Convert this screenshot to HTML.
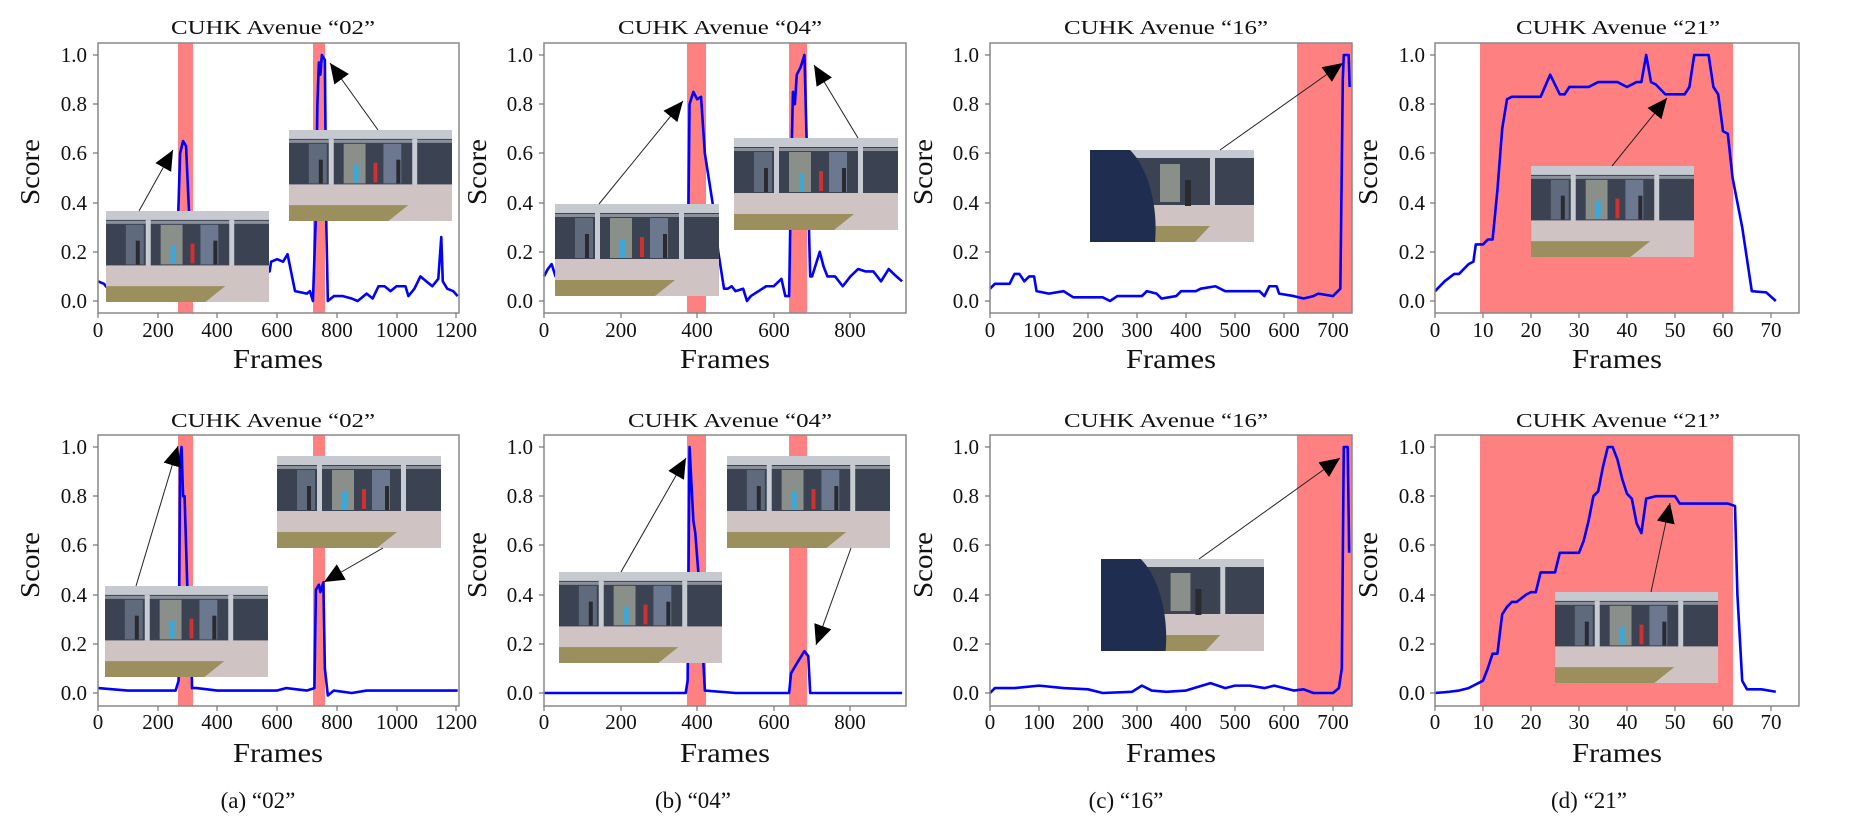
<!DOCTYPE html>
<html><head><meta charset="utf-8"><style>
html,body{margin:0;padding:0;background:#fff;}
svg{display:block;font-family:"Liberation Serif",serif;}
.t{font-size:21px;fill:#111;}
.lbl{font-size:27px;fill:#111;}
.ttl{font-size:20px;fill:#111;}
.fr{fill:none;stroke:#888;stroke-width:1.5;}
.tk{stroke:#777;stroke-width:1.2;}
.ln{fill:none;stroke:#0000ff;stroke-width:2.6;stroke-linejoin:round;}
.ar{stroke:#222;stroke-width:1;fill:none;}
.band{fill:#ff8080;}
</style></head><body>
<svg width="1850" height="817" viewBox="0 0 1850 817" xmlns="http://www.w3.org/2000/svg">
<defs>
<marker id="ah" markerUnits="userSpaceOnUse" markerWidth="24" markerHeight="22" refX="20" refY="9" orient="auto">
<path d="M0,0 L20,9 L0,18 z" fill="#000"/>
</marker>
<symbol id="scene" viewBox="0 0 164 92" preserveAspectRatio="none">
<rect width="164" height="92" fill="#3b4352"/>
<rect x="0" y="0" width="164" height="9" fill="#c6cad0"/>
<rect x="0" y="10" width="164" height="3" fill="#8a909a"/>
<rect x="20" y="14" width="18" height="40" fill="#5f6a7c"/>
<rect x="55" y="14" width="22" height="40" fill="#8b8f8a"/>
<rect x="95" y="14" width="18" height="40" fill="#6c7790"/>
<rect x="40" y="9" width="5" height="52" fill="#c8ccd2"/>
<rect x="124" y="9" width="5" height="52" fill="#c8ccd2"/>
<rect x="0" y="55" width="164" height="37" fill="#cfc3c4"/>
<polygon points="0,76 120,76 100,92 0,92" fill="#9c8f5e"/>
<rect x="65" y="35" width="5" height="18" fill="#3aa8d8"/>
<rect x="85" y="33" width="4" height="20" fill="#d03030"/>
<rect x="30" y="30" width="4" height="24" fill="#2a2a30"/>
<rect x="108" y="30" width="4" height="24" fill="#2a2a30"/>
</symbol>
<symbol id="scene2" viewBox="0 0 164 92" preserveAspectRatio="none">
<rect width="164" height="92" fill="#3b4352"/>
<rect x="0" y="0" width="164" height="8" fill="#c6cad0"/>
<rect x="70" y="14" width="20" height="38" fill="#8b8f8a"/>
<rect x="120" y="8" width="5" height="50" fill="#c8ccd2"/>
<rect x="0" y="55" width="164" height="37" fill="#cfc3c4"/>
<polygon points="40,76 120,76 105,92 40,92" fill="#9c8f5e"/>
<path d="M0,0 L40,0 C60,20 68,60 65,92 L0,92 z" fill="#1f2e50"/>
<rect x="95" y="30" width="6" height="26" fill="#2a2a30"/>
</symbol>
</defs>

<!-- ===== bands ===== -->
<rect class="band" x="178" y="43" width="15" height="270"/>
<rect class="band" x="313" y="43" width="12" height="270"/>
<rect class="band" x="687" y="43" width="19" height="270"/>
<rect class="band" x="789" y="43" width="18" height="270"/>
<rect class="band" x="1297" y="43" width="55" height="270"/>
<rect class="band" x="1480" y="43" width="253" height="270"/>

<rect class="band" x="178" y="435" width="15" height="271"/>
<rect class="band" x="313" y="435" width="12" height="271"/>
<rect class="band" x="687" y="435" width="19" height="271"/>
<rect class="band" x="789" y="435" width="18" height="271"/>
<rect class="band" x="1297" y="435" width="55" height="271"/>
<rect class="band" x="1480" y="435" width="253" height="271"/>

<!-- ===== curves row1 ===== -->
<g transform="translate(98,301) scale(0.2985,-246)">
<polyline class="ln" vector-effect="non-scaling-stroke" points="0,0.08 20,0.07 40,0.04 60,0.05 100,0.03 200,0.03 260,0.05 270,0.4 275,0.6 285,0.65 295,0.63 305,0.36 315,0.36 320,0.2 400,0.1 575,0.12 580,0.16 600,0.17 620,0.16 635,0.19 650,0.1 660,0.04 700,0.03 710,0.04 720,0 730,0.35 735,0.8 740,0.97 745,0.92 750,1.0 760,0.98 765,0.3 770,0 790,0.02 820,0.02 850,0.01 870,0 900,0.03 920,0.01 940,0.06 960,0.06 980,0.04 1000,0.06 1030,0.06 1040,0.02 1060,0.05 1080,0.1 1100,0.08 1120,0.06 1140,0.09 1150,0.26 1155,0.08 1170,0.05 1190,0.04 1205,0.02"/>
</g>
<g transform="translate(544,301) scale(0.383,-246)">
<polyline class="ln" vector-effect="non-scaling-stroke" points="0,0.1 10,0.13 20,0.15 30,0.1 100,0.1 300,0.08 375,0.05 380,0.8 390,0.85 400,0.82 410,0.83 420,0.6 430,0.5 440,0.4 455,0.2 460,0.15 470,0.05 480,0.05 490,0.06 500,0.04 520,0.05 530,0 540,0.02 560,0.04 580,0.06 600,0.06 620,0.09 630,0.02 640,0.02 645,0.5 650,0.85 655,0.8 660,0.92 670,0.95 680,1.0 690,0.4 695,0.1 700,0.1 720,0.2 730,0.14 740,0.1 760,0.1 780,0.06 800,0.1 820,0.13 840,0.12 860,0.12 880,0.08 900,0.13 920,0.1 935,0.08"/>
</g>
<g transform="translate(990,301) scale(0.49,-246)">
<polyline class="ln" vector-effect="non-scaling-stroke" points="0,0.05 10,0.07 40,0.07 50,0.11 60,0.11 70,0.08 80,0.1 90,0.1 95,0.04 120,0.03 150,0.04 170,0.015 230,0.015 245,0 260,0.02 310,0.02 320,0.04 340,0.03 350,0.01 380,0.02 390,0.04 420,0.04 430,0.05 460,0.06 480,0.04 520,0.04 550,0.04 560,0.02 570,0.06 585,0.06 590,0.03 620,0.02 640,0.01 660,0.02 670,0.03 700,0.02 715,0.05 720,0.9 722,1.0 732,1.0 734,0.87"/>
</g>
<g transform="translate(1435,301) scale(4.8,-246)">
<polyline class="ln" vector-effect="non-scaling-stroke" points="0,0.04 2,0.08 4,0.11 5,0.11 7,0.15 8,0.16 8.5,0.23 10,0.23 11,0.25 12,0.25 13,0.45 14,0.7 15,0.82 16,0.83 22,0.83 24,0.92 26,0.84 27,0.84 28,0.87 32,0.87 34,0.89 38,0.89 40,0.87 42,0.89 43,0.89 44,1.0 45,0.89 46,0.88 48,0.84 52,0.84 53,0.87 54,1.0 57,1.0 58,0.87 59,0.84 60,0.69 61,0.68 62,0.5 64,0.3 66,0.04 69,0.035 71,0"/>
</g>

<!-- ===== curves row2 ===== -->
<g transform="translate(98,693) scale(0.2985,-246)">
<polyline class="ln" vector-effect="non-scaling-stroke" points="0,0.02 100,0.01 260,0.01 270,0.05 275,0.95 280,1.0 285,0.8 290,0.8 292,0.72 300,0.4 310,0.4 315,0.02 330,0.02 400,0.01 600,0.01 630,0.02 700,0.01 725,0.02 730,0.42 740,0.44 745,0.41 755,0.45 760,0.1 770,-0.01 790,0.01 850,0 900,0.01 1000,0.01 1100,0.01 1205,0.01"/>
</g>
<g transform="translate(544,693) scale(0.383,-246)">
<polyline class="ln" vector-effect="non-scaling-stroke" points="0,0 370,0 375,0.05 380,1.0 385,0.85 390,0.7 395,0.65 400,0.55 405,0.45 410,0.3 420,0.01 500,0 640,0 645,0.08 660,0.12 680,0.17 690,0.15 695,0 935,0"/>
</g>
<g transform="translate(990,693) scale(0.49,-246)">
<polyline class="ln" vector-effect="non-scaling-stroke" points="0,0 10,0.02 50,0.02 100,0.03 150,0.02 200,0.015 230,0 290,0.005 310,0.03 330,0.01 360,0.005 400,0.01 450,0.04 480,0.02 500,0.03 530,0.03 560,0.02 580,0.03 620,0.01 640,0.015 660,0 700,0 712,0.02 718,0.1 722,1.0 730,1.0 733,0.57"/>
</g>
<g transform="translate(1435,693) scale(4.8,-246)">
<polyline class="ln" vector-effect="non-scaling-stroke" points="0,0 3,0.005 5,0.01 7,0.02 8,0.03 9,0.04 10,0.05 11,0.1 12,0.16 13,0.16 14,0.32 15,0.35 16,0.37 17,0.37 19,0.4 20,0.41 21,0.41 22,0.49 25,0.49 26,0.57 30,0.57 31,0.62 32,0.7 33,0.8 34,0.82 35,0.92 36,1.0 37,1.0 38,0.95 39,0.87 40,0.81 41,0.79 42,0.69 43,0.65 44,0.79 46,0.8 50,0.8 51,0.77 61,0.77 62.5,0.76 63,0.4 64,0.05 65,0.015 68,0.015 71,0.005"/>
</g>

<!-- ===== insets ===== -->
<use href="#scene" x="106" y="211" width="163" height="91"/>
<use href="#scene" x="289" y="130" width="163" height="91"/>
<use href="#scene" x="555" y="204" width="164" height="92"/>
<use href="#scene" x="734" y="138" width="164" height="92"/>
<use href="#scene2" x="1090" y="150" width="164" height="92"/>
<use href="#scene" x="1531" y="166" width="163" height="91"/>

<use href="#scene" x="105" y="586" width="163" height="91"/>
<use href="#scene" x="277" y="456" width="164" height="92"/>
<use href="#scene" x="559" y="572" width="163" height="91"/>
<use href="#scene" x="727" y="456" width="163" height="92"/>
<use href="#scene2" x="1101" y="559" width="163" height="92"/>
<use href="#scene" x="1555" y="592" width="163" height="91"/>

<!-- ===== arrows ===== -->
<g class="ar" marker-end="url(#ah)">
<line x1="139" y1="211" x2="173" y2="150"/>
<line x1="378" y1="130" x2="330" y2="63"/>
<line x1="599" y1="204" x2="683" y2="101"/>
<line x1="858" y1="138" x2="814" y2="65"/>
<line x1="1220" y1="150" x2="1343" y2="63"/>
<line x1="1612" y1="166" x2="1667" y2="98"/>

<line x1="136" y1="586" x2="178" y2="446"/>
<line x1="383" y1="548" x2="324" y2="582"/>
<line x1="621" y1="572" x2="686" y2="458"/>
<line x1="851" y1="548" x2="816" y2="645"/>
<line x1="1199" y1="559" x2="1340" y2="458"/>
<line x1="1651" y1="592" x2="1670" y2="503"/>
</g>

<!-- ===== frames & ticks ===== -->
<g id="axes">
<rect class="fr" x="98" y="43" width="361" height="270"/>
<rect class="fr" x="544" y="43" width="362" height="270"/>
<rect class="fr" x="990" y="43" width="362" height="270"/>
<rect class="fr" x="1435" y="43" width="364" height="270"/>
<rect class="fr" x="98" y="435" width="361" height="271"/>
<rect class="fr" x="544" y="435" width="362" height="271"/>
<rect class="fr" x="990" y="435" width="362" height="271"/>
<rect class="fr" x="1435" y="435" width="364" height="271"/>
</g>

<!-- y ticks & labels row1 -->
<g class="tk">
<path d="M93,301h5M93,252h5M93,203h5M93,153h5M93,104h5M93,55h5 M539,301h5M539,252h5M539,203h5M539,153h5M539,104h5M539,55h5 M985,301h5M985,252h5M985,203h5M985,153h5M985,104h5M985,55h5 M1430,301h5M1430,252h5M1430,203h5M1430,153h5M1430,104h5M1430,55h5"/>
<path d="M93,693h5M93,644h5M93,595h5M93,545h5M93,496h5M93,447h5 M539,693h5M539,644h5M539,595h5M539,545h5M539,496h5M539,447h5 M985,693h5M985,644h5M985,595h5M985,545h5M985,496h5M985,447h5 M1430,693h5M1430,644h5M1430,595h5M1430,545h5M1430,496h5M1430,447h5"/>
<path d="M98,313v5M158,313v5M217,313v5M277,313v5M337,313v5M397,313v5M456,313v5 M544,313v5M621,313v5M697,313v5M774,313v5M850,313v5 M990,313v5M1039,313v5M1088,313v5M1137,313v5M1186,313v5M1235,313v5M1284,313v5M1333,313v5 M1435,313v5M1483,313v5M1531,313v5M1579,313v5M1627,313v5M1675,313v5M1723,313v5M1771,313v5"/>
<path d="M98,706v5M158,706v5M217,706v5M277,706v5M337,706v5M397,706v5M456,706v5 M544,706v5M621,706v5M697,706v5M774,706v5M850,706v5 M990,706v5M1039,706v5M1088,706v5M1137,706v5M1186,706v5M1235,706v5M1284,706v5M1333,706v5 M1435,706v5M1483,706v5M1531,706v5M1579,706v5M1627,706v5M1675,706v5M1723,706v5M1771,706v5"/>
</g>

<g class="t" text-anchor="end">
<text x="87" y="308">0.0</text><text x="87" y="259">0.2</text><text x="87" y="210">0.4</text><text x="87" y="160">0.6</text><text x="87" y="111">0.8</text><text x="87" y="62">1.0</text>
<text x="533" y="308">0.0</text><text x="533" y="259">0.2</text><text x="533" y="210">0.4</text><text x="533" y="160">0.6</text><text x="533" y="111">0.8</text><text x="533" y="62">1.0</text>
<text x="979" y="308">0.0</text><text x="979" y="259">0.2</text><text x="979" y="210">0.4</text><text x="979" y="160">0.6</text><text x="979" y="111">0.8</text><text x="979" y="62">1.0</text>
<text x="1425" y="308">0.0</text><text x="1425" y="259">0.2</text><text x="1425" y="210">0.4</text><text x="1425" y="160">0.6</text><text x="1425" y="111">0.8</text><text x="1425" y="62">1.0</text>
<text x="87" y="700">0.0</text><text x="87" y="651">0.2</text><text x="87" y="602">0.4</text><text x="87" y="552">0.6</text><text x="87" y="503">0.8</text><text x="87" y="454">1.0</text>
<text x="533" y="700">0.0</text><text x="533" y="651">0.2</text><text x="533" y="602">0.4</text><text x="533" y="552">0.6</text><text x="533" y="503">0.8</text><text x="533" y="454">1.0</text>
<text x="979" y="700">0.0</text><text x="979" y="651">0.2</text><text x="979" y="602">0.4</text><text x="979" y="552">0.6</text><text x="979" y="503">0.8</text><text x="979" y="454">1.0</text>
<text x="1425" y="700">0.0</text><text x="1425" y="651">0.2</text><text x="1425" y="602">0.4</text><text x="1425" y="552">0.6</text><text x="1425" y="503">0.8</text><text x="1425" y="454">1.0</text>
</g>

<g class="t" text-anchor="middle">
<text x="98" y="337">0</text><text x="158" y="337">200</text><text x="217" y="337">400</text><text x="277" y="337">600</text><text x="337" y="337">800</text><text x="397" y="337">1000</text><text x="456" y="337">1200</text>
<text x="544" y="337">0</text><text x="621" y="337">200</text><text x="697" y="337">400</text><text x="774" y="337">600</text><text x="850" y="337">800</text>
<text x="990" y="337">0</text><text x="1039" y="337">100</text><text x="1088" y="337">200</text><text x="1137" y="337">300</text><text x="1186" y="337">400</text><text x="1235" y="337">500</text><text x="1284" y="337">600</text><text x="1333" y="337">700</text>
<text x="1435" y="337">0</text><text x="1483" y="337">10</text><text x="1531" y="337">20</text><text x="1579" y="337">30</text><text x="1627" y="337">40</text><text x="1675" y="337">50</text><text x="1723" y="337">60</text><text x="1771" y="337">70</text>
<text x="98" y="729">0</text><text x="158" y="729">200</text><text x="217" y="729">400</text><text x="277" y="729">600</text><text x="337" y="729">800</text><text x="397" y="729">1000</text><text x="456" y="729">1200</text>
<text x="544" y="729">0</text><text x="621" y="729">200</text><text x="697" y="729">400</text><text x="774" y="729">600</text><text x="850" y="729">800</text>
<text x="990" y="729">0</text><text x="1039" y="729">100</text><text x="1088" y="729">200</text><text x="1137" y="729">300</text><text x="1186" y="729">400</text><text x="1235" y="729">500</text><text x="1284" y="729">600</text><text x="1333" y="729">700</text>
<text x="1435" y="729">0</text><text x="1483" y="729">10</text><text x="1531" y="729">20</text><text x="1579" y="729">30</text><text x="1627" y="729">40</text><text x="1675" y="729">50</text><text x="1723" y="729">60</text><text x="1771" y="729">70</text>
</g>

<!-- axis labels -->
<g class="lbl" text-anchor="middle">
<text x="278" y="368" textLength="90" lengthAdjust="spacingAndGlyphs">Frames</text>
<text x="725" y="368" textLength="90" lengthAdjust="spacingAndGlyphs">Frames</text>
<text x="1171" y="368" textLength="90" lengthAdjust="spacingAndGlyphs">Frames</text>
<text x="1617" y="368" textLength="90" lengthAdjust="spacingAndGlyphs">Frames</text>
<text x="278" y="762" textLength="90" lengthAdjust="spacingAndGlyphs">Frames</text>
<text x="725" y="762" textLength="90" lengthAdjust="spacingAndGlyphs">Frames</text>
<text x="1171" y="762" textLength="90" lengthAdjust="spacingAndGlyphs">Frames</text>
<text x="1617" y="762" textLength="90" lengthAdjust="spacingAndGlyphs">Frames</text>
<text transform="translate(39,172) rotate(-90)" textLength="66" lengthAdjust="spacingAndGlyphs">Score</text>
<text transform="translate(486,172) rotate(-90)" textLength="66" lengthAdjust="spacingAndGlyphs">Score</text>
<text transform="translate(932,172) rotate(-90)" textLength="66" lengthAdjust="spacingAndGlyphs">Score</text>
<text transform="translate(1377,172) rotate(-90)" textLength="66" lengthAdjust="spacingAndGlyphs">Score</text>
<text transform="translate(39,565) rotate(-90)" textLength="66" lengthAdjust="spacingAndGlyphs">Score</text>
<text transform="translate(486,565) rotate(-90)" textLength="66" lengthAdjust="spacingAndGlyphs">Score</text>
<text transform="translate(932,565) rotate(-90)" textLength="66" lengthAdjust="spacingAndGlyphs">Score</text>
<text transform="translate(1377,565) rotate(-90)" textLength="66" lengthAdjust="spacingAndGlyphs">Score</text>
</g>

<!-- titles -->
<g class="ttl" text-anchor="middle">
<text x="273" y="34" textLength="204" lengthAdjust="spacingAndGlyphs">CUHK Avenue “02”</text>
<text x="720" y="34" textLength="204" lengthAdjust="spacingAndGlyphs">CUHK Avenue “04”</text>
<text x="1166" y="34" textLength="204" lengthAdjust="spacingAndGlyphs">CUHK Avenue “16”</text>
<text x="1618" y="34" textLength="204" lengthAdjust="spacingAndGlyphs">CUHK Avenue “21”</text>
<text x="273" y="427" textLength="204" lengthAdjust="spacingAndGlyphs">CUHK Avenue “02”</text>
<text x="730" y="427" textLength="204" lengthAdjust="spacingAndGlyphs">CUHK Avenue “04”</text>
<text x="1166" y="427" textLength="204" lengthAdjust="spacingAndGlyphs">CUHK Avenue “16”</text>
<text x="1618" y="427" textLength="204" lengthAdjust="spacingAndGlyphs">CUHK Avenue “21”</text>
</g>

<!-- captions -->
<g style="font-size:23px;fill:#111" text-anchor="middle">
<text x="258" y="808">(a) “02”</text>
<text x="693" y="808">(b) “04”</text>
<text x="1126" y="808">(c) “16”</text>
<text x="1589" y="808">(d) “21”</text>
</g>
</svg>
</body></html>
